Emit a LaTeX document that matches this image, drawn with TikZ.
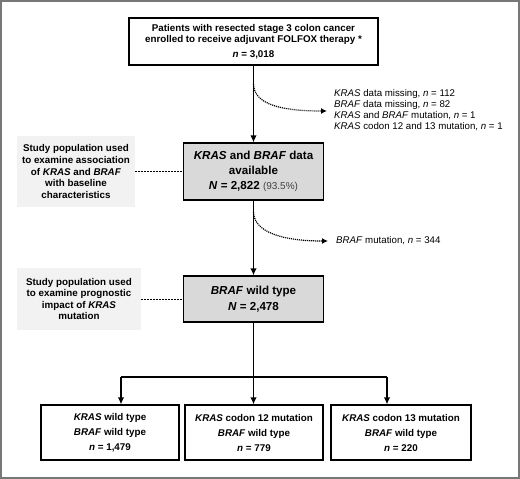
\documentclass[tikz,border=0pt]{standalone}
\usepackage{fontspec}
\setmainfont{Liberation Sans}
\usetikzlibrary{arrows.meta}
\definecolor{boxgray}{HTML}{D9D9D9}
\definecolor{notegray}{HTML}{F2F2F2}
\definecolor{framegray}{HTML}{777777}
\definecolor{pctgray}{HTML}{404040}
\begin{document}
\begin{tikzpicture}[x=1pt,y=-1pt,
  box/.style={draw=black, line width=1.2pt, align=center, inner sep=0pt,
    font=\bfseries\fontsize{9.8}{15}\selectfont},
  mainbox/.style={box, fill=boxgray, font=\bfseries\fontsize{11.6}{15}\selectfont},
  note/.style={fill=notegray, align=center, inner sep=0pt,
    font=\bfseries\fontsize{9.8}{11.6}\selectfont},
  arr/.style={line width=1.7pt, -{Latex[length=7pt,width=6.5pt]}},
  dotarr/.style={line width=1.2pt, dash pattern=on 1.1pt off 0.9pt, -{Latex[length=6pt,width=6pt]}},
  dashlink/.style={line width=0.7pt, dash pattern=on 2pt off 1pt},
  excl/.style={align=left, inner sep=0pt, anchor=west,
    font=\fontsize{9.7}{11}\selectfont}
]
\useasboundingbox (0,0) rectangle (520,479);
\draw[framegray, line width=2pt] (1,1) rectangle (519,478);

\node[box, minimum width=249pt, minimum height=47pt,
  font=\bfseries\fontsize{9.8}{10.5}\selectfont] (top) at (253.5,41.5)
  {Patients with resected stage 3 colon cancer\\enrolled to receive adjuvant FOLFOX therapy *\\[4.5pt]\textit{n} = 3,018};

\node[mainbox, minimum width=140pt, minimum height=57pt] (kras) at (253.5,171.5)
  {\textit{KRAS} and \textit{BRAF} data\\available\\\textit{N} = 2,822 {\mdseries\fontsize{10}{10}\selectfont\color{pctgray}(93.5\%)}};

\node[mainbox, minimum width=140pt, minimum height=46pt,
  font=\bfseries\fontsize{11.6}{16}\selectfont] (braf) at (253.5,299)
  {\textit{BRAF} wild type\\\textit{N} = 2,478};

\node[note, minimum width=118pt, minimum height=71pt] (note1) at (76,171.5)
  {Study population used\\to examine association\\of \textit{KRAS} and \textit{BRAF}\\with baseline\\characteristics};

\node[note, minimum width=124pt, minimum height=62pt] (note2) at (79,299)
  {Study population used\\to examine prognostic\\impact of \textit{KRAS}\\mutation};

\node[box, minimum width=138pt, minimum height=55pt] (b1) at (110,432.5)
  {\textit{KRAS} wild type\\\textit{BRAF} wild type\\\textit{n} = 1,479};
\node[box, minimum width=138pt, minimum height=55pt] (b2) at (254,432.5)
  {\textit{KRAS} codon 12 mutation\\\textit{BRAF} wild type\\\textit{n} = 779};
\node[box, minimum width=140pt, minimum height=55pt] (b3) at (401,432.5)
  {\textit{KRAS} codon 13 mutation\\\textit{BRAF} wild type\\\textit{n} = 220};

\node[excl] (ex1) at (334,110)
  {\textit{KRAS} data missing, \textit{n} = 112\\\textit{BRAF} data missing, \textit{n} = 82\\\textit{KRAS} and \textit{BRAF} mutation, \textit{n} = 1\\\textit{KRAS} codon 12 and 13 mutation, \textit{n} = 1};
\node[excl] (ex2) at (336,241)
  {\textit{BRAF} mutation, \textit{n} = 344};

% main flow
\draw[arr] (top.south -| kras.north) -- (kras.north);
\draw[arr] (kras.south) -- (braf.north);
\coordinate (split) at (braf.south |- 0,377);
\coordinate (l) at (121,377);
\coordinate (r) at (387,377);
\draw[line width=1.7pt] (braf.south) -- (split);
\draw[line width=1.7pt] (l) -- (r);
\draw[arr] (l) -- (l |- b1.north);
\draw[arr] (split) -- (split |- b2.north);
\draw[arr] (r) -- (r |- b3.north);

% exclusions
\coordinate (d1) at (253.5,84);
\coordinate (e1) at (327,111);
\coordinate (d2) at (253.5,212);
\coordinate (e2) at (328,241);
\draw[dotarr] (d1) .. controls (254,104) and (280,111) .. (e1);
\draw[dotarr] (d2) .. controls (254,232) and (282,241) .. (e2);

% dashed links
\draw[dashlink] (note1.east) -- (kras.west);
\draw[dashlink] (note2.east) -- (braf.west);
\end{tikzpicture}
\end{document}
